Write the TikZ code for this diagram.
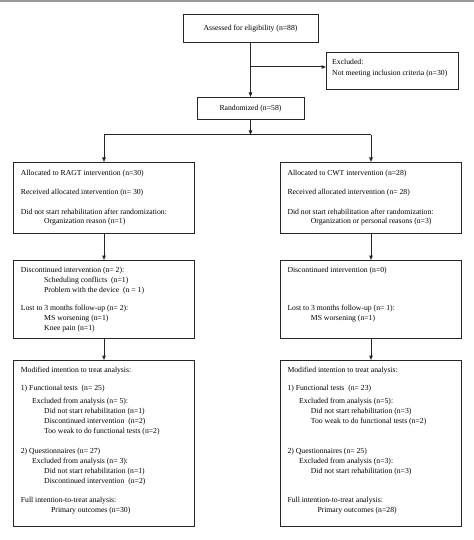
\documentclass[tikz,border=0pt]{standalone}
\usepackage{fontspec}
\setmainfont{Liberation Serif}
\usetikzlibrary{arrows.meta}
\begin{document}
\begin{tikzpicture}[x=1bp,y=-1bp,
  box/.style={draw=black!85, line width=1bp, inner sep=0, anchor=north west, font=\fontsize{7.7bp}{9bp}\selectfont},
  txt/.style={inner sep=0, anchor=base west, font=\fontsize{7.7bp}{9bp}\selectfont},
  arr/.style={-{Triangle[length=4.5bp,width=3.5bp]}, line width=1bp, draw=black!85},
  ln/.style={line width=1bp, draw=black!85}]
\useasboundingbox (0,0) rectangle (474,540);
\fill[black!40] (0,0) rectangle (474,2);

% boxes
\node[box, minimum width=135bp, minimum height=28bp] (assess) at (182.5,14) {Assessed for eligibility (n=88)};
\node[box, minimum width=132bp, minimum height=37bp] (excl) at (326,52) {};
\node[box, minimum width=107bp, minimum height=22bp] (rand) at (196.5,97) {Randomized (n=58)};
\node[box, minimum width=181bp, minimum height=71bp] (ragtA) at (13,162) {};
\node[box, minimum width=181bp, minimum height=78bp] (ragtB) at (13,260) {};
\node[box, minimum width=181bp, minimum height=166bp] (ragtC) at (13,360) {};
\node[box, minimum width=181bp, minimum height=71bp] (cwtA) at (280,162) {};
\node[box, minimum width=181bp, minimum height=78bp] (cwtB) at (280,260) {};
\node[box, minimum width=181bp, minimum height=166bp] (cwtC) at (280,360) {};

% excluded text
\node[txt] (ex1) at (332,64.5) {Excluded:};
\node[txt] (ex2) at (332,75.5) {Not meeting inclusion criteria (n=30)};

% connectors
\coordinate (br) at (assess.south |- 0,67);
\coordinate (split) at (rand.south |- 0,135);
\draw[arr] (assess.south) -- (assess.south |- rand.north);
\draw[arr] (br) -- (excl.west |- br);
\draw[arr] (rand.south) -- (split);
\draw[ln] (ragtA.north |- split) -- (cwtA.north |- split);
\draw[arr] (ragtA.north |- split) -- (ragtA.north);
\draw[arr] (cwtA.north |- split) -- (cwtA.north);
\draw[arr] (ragtA.south) -- (ragtB.north);
\draw[arr] (ragtB.south) -- (ragtC.north);
\draw[arr] (cwtA.south) -- (cwtB.north);
\draw[arr] (cwtB.south) -- (cwtC.north);

% RAGT column
\node[txt] (la1) at (20.7,175.5) {Allocated to RAGT intervention (n=30)};
\node[txt] (la2) at (20.7,195) {Received allocated intervention (n= 30)};
\node[txt] (la3) at (20.7,215) {Did not start rehabilitation after randomization:};
\node[txt] (la4) at (44,223) {Organization reason (n=1)};

\node[txt] (lb1) at (20.7,272.5) {Discontinued intervention (n= 2):};
\node[txt] (lb2) at (44,282.5) {Scheduling conflicts\ \ (n=1)};
\node[txt] (lb3) at (44,292.5) {Problem with the device\ \ (n = 1)};
\node[txt] (lb4) at (20.7,310.5) {Lost to 3 months follow-up (n= 2):};
\node[txt] (lb5) at (44,320.5) {MS worsening (n=1)};
\node[txt] (lb6) at (44,330.5) {Knee pain (n=1)};

\node[txt] (lc1) at (20.7,372.5) {Modified intention to treat analysis:};
\node[txt] (lc2) at (20.7,390.5) {1) Functional tests\ \ (n= 25)};
\node[txt] (lc3) at (32,403.5) {Excluded from analysis (n= 5):};
\node[txt] (lc4) at (44,413.5) {Did not start rehabilitation (n=1)};
\node[txt] (lc5) at (44,423.5) {Discontinued intervention\ \ (n=2)};
\node[txt] (lc6) at (44,433.5) {Too weak to do functional tests (n=2)};
\node[txt] (lc7) at (20.7,453.5) {2) Questionnaires (n= 27)};
\node[txt] (lc8) at (32,463.5) {Excluded from analysis (n= 3):};
\node[txt] (lc9) at (44,473.5) {Did not start rehabilitation (n=1)};
\node[txt] (lc10) at (44,483.5) {Discontinued intervention\ \ (n=2)};
\node[txt] (lc11) at (20.7,502.5) {Full intention-to-treat analysis:};
\node[txt] (lc12) at (51,512.5) {Primary outcomes (n=30)};

% CWT column
\node[txt] (ra1) at (287.3,175.5) {Allocated to CWT intervention (n=28)};
\node[txt] (ra2) at (287.3,195) {Received allocated intervention (n= 28)};
\node[txt] (ra3) at (287.3,215) {Did not start rehabilitation after randomization:};
\node[txt] (ra4) at (310.7,223) {Organization or personal reasons (n=3)};

\node[txt] (rb1) at (287.3,272.5) {Discontinued intervention (n=0)};
\node[txt] (rb4) at (287.3,310.5) {Lost to 3 months follow-up (n= 1):};
\node[txt] (rb5) at (310.7,320.5) {MS worsening (n=1)};

\node[txt] (rc1) at (287.3,372.5) {Modified intention to treat analysis:};
\node[txt] (rc2) at (287.3,390.5) {1) Functional tests\ \ (n= 23)};
\node[txt] (rc3) at (299,403.5) {Excluded from analysis (n=5):};
\node[txt] (rc4) at (310.7,413.5) {Did not start rehabilitation (n=3)};
\node[txt] (rc5) at (310.7,423.5) {Too weak to do functional tests (n=2)};
\node[txt] (rc7) at (287.3,453.5) {2) Questionnaires (n= 25)};
\node[txt] (rc8) at (299,463.5) {Excluded from analysis (n=3):};
\node[txt] (rc9) at (310.7,473.5) {Did not start rehabilitation (n=3)};
\node[txt] (rc11) at (287.3,502.5) {Full intention-to-treat analysis:};
\node[txt] (rc12) at (317.3,512.5) {Primary outcomes (n=28)};
\end{tikzpicture}
\end{document}
